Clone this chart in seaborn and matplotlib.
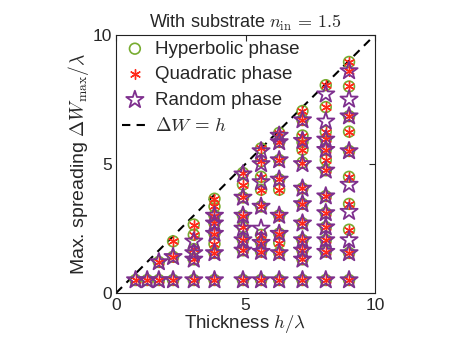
import numpy as np
import pandas as pd
import matplotlib
matplotlib.use("Agg")
import matplotlib.pyplot as plt
import seaborn as sns

# ---------------- data ----------------
thickness = [0.75, 1.2, 1.65, 2.2, 3.0, 3.8, 4.9, 5.6, 6.3, 7.2, 8.1, 9.0]

hyperbolic = [
    [0.5],
    [0.5],
    [0.5, 1.2],
    [0.5, 1.4, 2.0],
    [0.5, 1.3, 1.7, 2.25, 2.65],
    [0.5, 1.55, 1.9, 2.3, 2.7, 3.0, 3.35, 3.65],
    [0.5, 1.65, 2.05, 2.55, 3.0, 3.7, 4.2, 4.65],
    [0.5, 1.6, 1.95, 2.25, 3.35, 4.0, 4.5, 5.1, 5.6],
    [0.5, 1.55, 1.95, 2.3, 3.0, 4.0, 4.4, 5.15, 5.85, 6.2],
    [0.5, 1.3, 1.65, 2.05, 2.7, 3.45, 4.05, 5.05, 5.55, 5.85, 6.1, 6.7, 7.05],
    [0.5, 1.6, 2.05, 2.55, 3.1, 3.75, 4.75, 5.15, 5.55, 5.95, 6.25, 7.2, 8.05],
    [0.5, 1.55, 2.45, 3.45, 4.5, 5.5, 6.25, 6.85, 8.0, 8.95],
]

quadratic = [
    [0.5],
    [0.5],
    [0.5, 1.2],
    [0.5, 1.4, 2.0],
    [0.5, 1.3, 1.7, 2.25, 2.65],
    [0.5, 1.55, 1.9, 2.3, 2.7, 3.0, 3.35, 3.65],
    [0.5, 1.65, 2.05, 2.55, 3.0, 3.7, 4.2, 4.65],
    [0.5, 1.6, 1.95, 2.25, 3.35, 4.0, 4.5, 5.1, 5.6],
    [0.5, 1.55, 1.95, 2.3, 3.0, 4.0, 4.4, 5.15, 5.85, 6.2],
    [0.5, 1.3, 1.65, 2.05, 2.7, 3.45, 4.05, 5.05, 5.55, 5.85, 6.1, 6.7, 7.05],
    [0.5, 1.6, 2.05, 2.55, 3.1, 3.75, 4.75, 5.15, 5.55, 5.95, 6.25, 7.2, 8.05],
    [0.5, 1.55, 2.45, 3.45, 4.5, 5.5, 6.25, 6.85, 8.0, 8.6, 8.95],
]

random_ph = [
    [0.5],
    [0.5],
    [0.5, 1.2],
    [0.5, 1.4],
    [0.5, 1.3, 1.55, 2.0],
    [0.5, 1.55, 2.3, 2.7, 3.0],
    [0.5, 1.65, 2.05, 2.5, 3.0, 3.7, 4.6],
    [0.5, 1.6, 1.95, 2.5, 3.35, 4.3, 5.0, 5.5],
    [0.5, 1.55, 2.3, 3.0, 4.4, 5.15, 5.85, 6.1],
    [0.5, 1.3, 1.65, 2.05, 2.7, 3.45, 4.05, 5.0, 5.9, 6.7],
    [0.5, 1.6, 2.05, 2.55, 3.1, 3.75, 4.75, 5.55, 5.95, 6.65, 7.7],
    [0.5, 1.55, 2.05, 3.15, 4.2, 5.5, 6.85, 7.5, 8.6],
]

diag = [0, 10]


def to_frame(cols):
    h = [t for t, c in zip(thickness, cols) for _ in c]
    w = [v for c in cols for v in c]
    return pd.DataFrame({"h": h, "dW": w})


hyp_df = to_frame(hyperbolic)
quad_df = to_frame(quadratic)
rand_df = to_frame(random_ph)

# ---------------- style ----------------
sns.set_style("white")
plt.rcParams["font.family"] = ["Liberation Sans", "DejaVu Sans"]
plt.rcParams["mathtext.fontset"] = "cm"

fig = plt.figure(figsize=(4.74, 3.63), dpi=100)
ax = fig.add_axes([0.245, 0.193, 0.546, 0.711])

green = "#77AC30"
red = "#FF2A1A"
purple = "#7E2F8E"

sns.scatterplot(data=hyp_df, x="h", y="dW", ax=ax, marker="o", s=60,
                facecolor="none", edgecolor=green, linewidth=1.2,
                label="Hyperbolic phase", zorder=3)
sns.scatterplot(data=quad_df, x="h", y="dW", ax=ax, marker=(6, 2, 0), s=50,
                color=red, edgecolor=red, linewidth=1.0,
                label="Quadratic phase", zorder=4)
sns.scatterplot(data=rand_df, x="h", y="dW", ax=ax, marker="*", s=170,
                facecolor="none", edgecolor=purple, linewidth=1.3,
                label="Random phase", zorder=5)
sns.lineplot(x=diag, y=diag, ax=ax, color="black", linestyle=(0, (4, 3)),
             linewidth=1.5, label=r"$\Delta W\,=\,h$", zorder=2)

ax.set_xlim(0, 10)
ax.set_ylim(0, 10)
ax.set_xticks([0, 5, 10])
ax.set_yticks([0, 5, 10])
ax.tick_params(direction="in", top=True, right=True, length=4,
               labelsize=12.5, width=0.8)
ax.tick_params(axis="x", pad=4)
ax.tick_params(axis="y", pad=3)
for sp in ax.spines.values():
    sp.set_color("#222222")
    sp.set_linewidth(0.8)

ax.set_xlabel(r"Thickness $h/\lambda$", fontsize=13.5, labelpad=0)
ax.set_ylabel(r"Max. spreading $\Delta W_{\rm max}/\lambda$", fontsize=14, labelpad=1)
ax.set_title(r"With substrate $n_{\rm in}\,=\,1.5$", fontsize=13, pad=5)

leg = ax.legend(loc="upper left", frameon=False, fontsize=13.5,
                handletextpad=0.35, borderaxespad=0.1, labelspacing=0.45,
                handlelength=1.4, borderpad=0.2)

fig.savefig("out.png", dpi=100)
